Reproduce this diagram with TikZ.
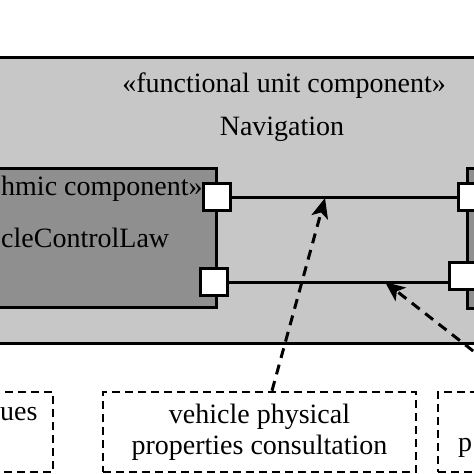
\documentclass[tikz,border=0pt]{standalone}
\usepackage{fontspec}
\setmainfont{Liberation Serif}
\usetikzlibrary{arrows.meta,positioning,calc}

\begin{document}
\begin{tikzpicture}[x=1pt,y=-1pt, every node/.style={font=\fontsize{28}{31}\selectfont},
 blk/.style={draw,line width=3pt,inner sep=0pt},
 port/.style={draw,line width=3pt,fill=white,minimum size=27pt,inner sep=0pt},
 note/.style={draw,line width=2.6pt,dash pattern=on 8pt off 5pt,minimum height=80pt,align=center,inner sep=0pt},
 dep/.style={line width=3pt,dash pattern=on 10pt off 7pt,-{Stealth[length=20pt,width=17pt,inset=5pt]}}]
\useasboundingbox (0,0) rectangle (474,474);
\clip (0,0) rectangle (474,474);
% functional unit
\node[blk,fill=black!22,minimum width=540pt,minimum height=286pt] (nav) at (237,200) {};
\node[anchor=base] (navst) at (284,92) {«functional unit component»};
\node[anchor=base] (navnm) at (282,135) {Navigation};
% inner components
\node[blk,fill=black!44,minimum width=416pt,minimum height=139pt] (law) at (8,237.5) {};
\node[anchor=base west,inner sep=0pt] (lawst) at (1,195) {hmic component»};
\node[anchor=base west,inner sep=0pt] (lawnm) at (1,247) {cleControlLaw};
\node[blk,fill=black!44,minimum width=200pt,minimum height=140pt] (ctl) at (567,238) {};
% ports
\node[port] (lp0) at (217,197) {};
\node[port] (lp1) at (214,282) {};
\node[port] (rp0) at (472,197) {};
\node[port] (rp1) at (463,276) {};
\draw[line width=3pt] (lp0.east) -- (rp0.west);
\draw[line width=3pt] (lp1.east) -- (lp1.east -| rp1.west);
% notes
\node[note,minimum width=153pt] (nl) at (-23.5,432) {};
\node[anchor=base west,inner sep=0pt] (nltx) at (0,420) {ues};
\node[note,minimum width=313pt] (nm) at (259.5,432) {vehicle physical\\properties consultation};
\node[note,minimum width=162pt] (nr) at (519,432) {};
\node[anchor=base west,inner sep=0pt] (nrtx) at (458,451) {p};
% dependencies
\coordinate (hit0) at (325,198);
\coordinate (hit1) at (385,282);
\coordinate (src1) at (500,372);
\draw[dep] ([xshift=12.5pt]nm.north) -- (hit0);
\draw[dep] (src1) -- (hit1);
\end{tikzpicture}
\end{document}
